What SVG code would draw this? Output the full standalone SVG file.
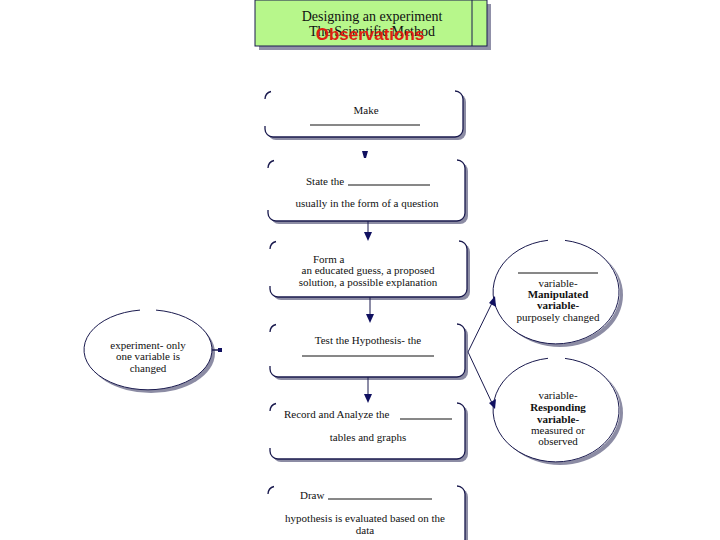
<svg xmlns="http://www.w3.org/2000/svg" width="720" height="540" viewBox="0 0 720 540">
<defs>
<style>
.t{font-family:"Liberation Serif","Times New Roman",serif;font-size:11px;fill:#111}
.c{text-anchor:middle}
.b{font-weight:bold}
.sh{fill:#8c8ca4}
.bx{fill:#fff}
.ed{fill:none;stroke:#1a1a4e;stroke-width:1.3}
.ul{stroke:#111;stroke-width:1}
.cn{fill:none;stroke:#1a1a4e;stroke-width:1}
.ah{fill:#101060}
</style>
</defs>
<rect width="720" height="540" fill="#fff"/>
<g id="header">
<rect x="259" y="4" width="232" height="46" fill="#9090a8"/>
<rect x="255" y="0" width="232" height="46" fill="#b7f78b" stroke="#1a1a4e" stroke-width="1"/>
<line x1="472" y1="0" x2="472" y2="46" stroke="#1a1a4e" stroke-width="1"/>
<text class="t c" x="372" y="21" style="font-size:14px">Designing an experiment</text>
<text class="t c" x="372" y="36" style="font-size:14px">The Scientific Method</text>
<text x="370" y="40" text-anchor="middle" style="font-family:'Liberation Sans',Arial,sans-serif;font-size:17px;font-weight:bold;fill:#dd1f10">Observations</text>
</g>
<g id="box1">
<rect class="sh" x="268" y="94" width="198" height="46" rx="8"/>
<rect class="bx" x="265" y="91" width="198" height="46" rx="8"/>
<path class="ed" d="M265,99 A8,8 0 0 1 271,91.5 M455,91 A8,8 0 0 1 463,99 L463,129 A8,8 0 0 1 455,137 L273,137 A8,8 0 0 1 265,129 L265,126"/>
<text class="t c" x="366" y="114">Make</text>
<line class="ul" x1="310" y1="125" x2="420" y2="125"/>
</g>
<g id="box2">
<rect class="sh" x="271" y="163" width="197" height="61" rx="8"/>
<rect class="bx" x="268" y="160" width="197" height="61" rx="8"/>
<path class="ed" d="M268,168 A8,8 0 0 1 274,160.5 M457,160 A8,8 0 0 1 465,168 L465,213 A8,8 0 0 1 457,221 L276,221 A8,8 0 0 1 268,213 L268,210"/>
<text class="t" x="306" y="185">State the</text>
<line class="ul" x1="348" y1="185" x2="430" y2="185"/>
<text class="t c" x="367" y="207">usually in the form of a question</text>
</g>
<g id="box3">
<rect class="sh" x="273" y="244" width="197" height="56" rx="8"/>
<rect class="bx" x="270" y="241" width="197" height="56" rx="8"/>
<path class="ed" d="M270,249 A8,8 0 0 1 276,241.5 M459,241 A8,8 0 0 1 467,249 L467,289 A8,8 0 0 1 459,297 L278,297 A8,8 0 0 1 270,289 L270,286"/>
<text class="t" x="313" y="263">Form a</text>
<text class="t c" x="368" y="274">an educated guess, a proposed</text>
<text class="t c" x="368" y="286">solution, a possible explanation</text>
</g>
<g id="box4">
<rect class="sh" x="273" y="327" width="195" height="53" rx="8"/>
<rect class="bx" x="270" y="324" width="195" height="53" rx="8"/>
<path class="ed" d="M270,332 A8,8 0 0 1 276,324.5 M457,324 A8,8 0 0 1 465,332 L465,369 A8,8 0 0 1 457,377 L278,377 A8,8 0 0 1 270,369 L270,366"/>
<text class="t c" x="368" y="344">Test the Hypothesis- the</text>
<line class="ul" x1="302" y1="356" x2="434" y2="356"/>
</g>
<g id="box5">
<rect class="sh" x="273" y="406" width="195" height="56" rx="8"/>
<rect class="bx" x="270" y="403" width="195" height="56" rx="8"/>
<path class="ed" d="M270,411 A8,8 0 0 1 276,403.5 M457,403 A8,8 0 0 1 465,411 L465,451 A8,8 0 0 1 457,459 L278,459 A8,8 0 0 1 270,451 L270,448"/>
<text class="t" x="284" y="418">Record and Analyze the</text>
<line class="ul" x1="400" y1="419" x2="452" y2="419"/>
<text class="t c" x="368" y="441">tables and graphs</text>
</g>
<g id="box6">
<rect class="sh" x="271" y="489" width="197" height="60" rx="8"/>
<rect class="bx" x="268" y="486" width="197" height="60" rx="8"/>
<path class="ed" d="M268,494 A8,8 0 0 1 274,486.5 M457,486 A8,8 0 0 1 465,494 L465,546"/>
<text class="t" x="300" y="499">Draw</text>
<line class="ul" x1="328" y1="499" x2="432" y2="499"/>
<text class="t c" x="365" y="522">hypothesis is evaluated based on the</text>
<text class="t c" x="365" y="534">data</text>
</g>
<g id="ellipse-manipulated">
<ellipse cx="560" cy="295" rx="63" ry="52" fill="#8c8ca4"/>
<ellipse cx="557" cy="292" rx="63" ry="52" fill="#fff"/>
<path class="cn" d="M548,240.3 A63,52 0 1 0 565,240.4"/>
<line class="ul" x1="518" y1="273" x2="598" y2="273"/>
<text class="t c" x="558" y="287">variable-</text>
<text class="t c b" x="558" y="298">Manipulated</text>
<text class="t c b" x="558" y="309">variable-</text>
<text class="t c" x="558" y="321">purposely changed</text>
</g>
<g id="ellipse-responding">
<ellipse cx="560" cy="413" rx="63" ry="52" fill="#8c8ca4"/>
<ellipse cx="557" cy="410" rx="63" ry="52" fill="#fff"/>
<path class="cn" d="M548,358.3 A63,52 0 1 0 565,358.4"/>
<text class="t c" x="558" y="399">variable-</text>
<text class="t c b" x="558" y="411">Responding</text>
<text class="t c b" x="558" y="423">variable-</text>
<text class="t c" x="558" y="434">measured or</text>
<text class="t c" x="558" y="445">observed</text>
</g>
<g id="ellipse-left">
<ellipse cx="151" cy="353" rx="64" ry="40" fill="#8c8ca4"/>
<ellipse cx="148" cy="350" rx="64" ry="40" fill="#fff"/>
<path class="cn" d="M140,310.1 A64,40 0 1 0 156,310.1"/>
<text class="t c" x="148" y="349">experiment- only</text>
<text class="t c" x="148" y="360">one variable is</text>
<text class="t c" x="148" y="372">changed</text>
</g>
<g id="connectors">
<path class="ah" d="M362,151 L368,151 L366,158 L364,158 Z"/>
<line class="cn" x1="368" y1="221" x2="368" y2="234"/>
<path class="ah" d="M364,232 L372,232 L368,241 Z"/>
<line class="cn" x1="370" y1="297" x2="370" y2="316"/>
<path class="ah" d="M366,314 L374,314 L370,323 Z"/>
<line class="cn" x1="368" y1="377" x2="368" y2="396"/>
<path class="ah" d="M364,394 L372,394 L368,403 Z"/>
<path class="cn" d="M492,303 L468,352 L492,403"/>
<path class="ah" d="M495,296 L496,307 L489,303 Z"/>
<path class="ah" d="M495,409 L489,403 L496,399 Z"/>
<line x1="212" y1="350" x2="220" y2="350" stroke="#1a1a4e" stroke-width="1.5"/>
<rect class="ah" x="218" y="348" width="4" height="4"/>
</g>
</svg>
